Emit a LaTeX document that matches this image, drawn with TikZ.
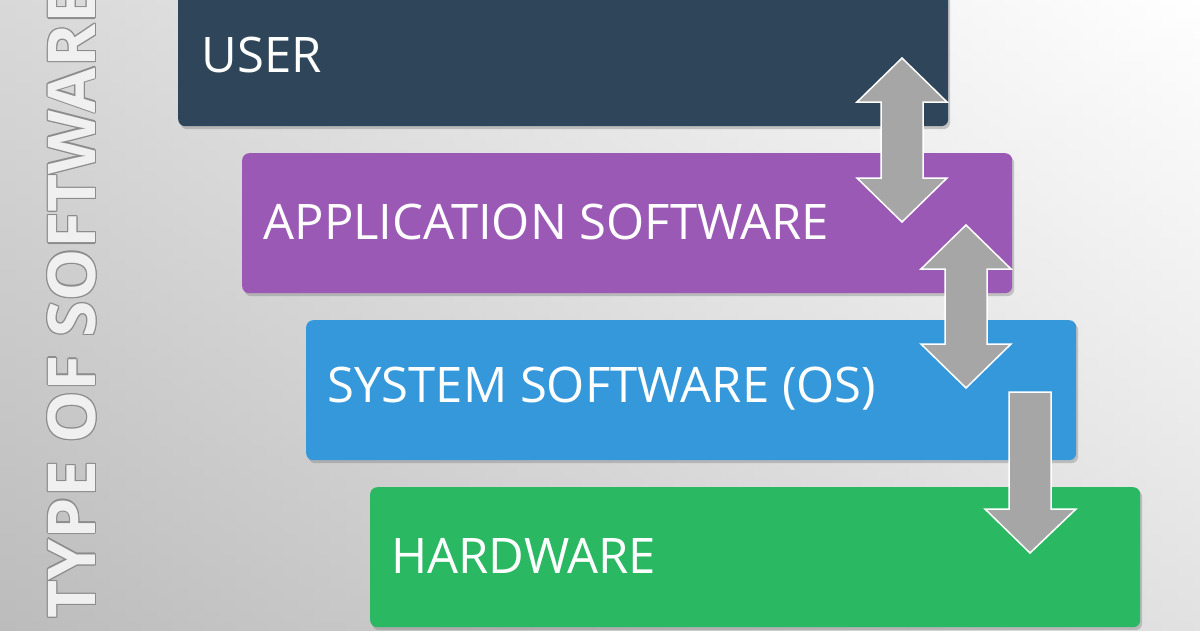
\documentclass[tikz,border=0pt]{standalone}
\usepackage{fontspec}
\setmainfont{Open Sans}
\usetikzlibrary{shadows}
\definecolor{cuser}{HTML}{2F4559}
\definecolor{capp}{HTML}{9B59B6}
\definecolor{csys}{HTML}{3498DB}
\definecolor{chw}{HTML}{2AB862}
\definecolor{arr}{HTML}{A6A6A6}
\tikzset{
  layer/.style={rounded corners=7pt, minimum width=770pt, minimum height=140pt, anchor=north west,
    inner sep=0pt, drop shadow={shadow xshift=2pt, shadow yshift=-3pt, opacity=0.4}},
  ltext/.style={anchor=west, text=white, font=\fontsize{49}{55}\selectfont},
  garrow/.style={fill=arr, draw=white, line width=1.5pt},
  ttl/.style={rotate=90, anchor=west, font=\fontsize{66}{66}\selectfont\bfseries}
}
\begin{document}
\begin{tikzpicture}[x=1pt,y=-1pt]
\useasboundingbox (0,0) rectangle (1200,630);
\shade[left color=gray!60, right color=white] (0,0) rectangle (1200,630);
\shade[top color=white, bottom color=gray!45, opacity=0.5] (0,0) rectangle (1200,630);
% vertical title (outlined)
\foreach \dx/\dy in {1.3/0,-1.3/0,0/1.3,0/-1.3,0.9/0.9,-0.9/0.9,0.9/-0.9,-0.9/-0.9}
  \node[ttl, text=gray!90] at (72+\dx,622+\dy) {TYPE OF SOFTWARE};
\node[ttl, text=gray!12] (title) at (72,622) {TYPE OF SOFTWARE};
\node[layer, fill=cuser] (user) at (178,-14) {};
\node[ltext] (tuser) at (198,55) {USER};
\node[layer, fill=capp] (app) at (242,153) {};
\node[ltext] (tapp) at (260,222) {APPLICATION SOFTWARE};
\node[layer, fill=csys] (sys) at (306,320) {};
\node[ltext] (tsys) at (324,389) {SYSTEM SOFTWARE (OS)};
\node[layer, fill=chw] (hw) at (370,487) {};
\node[ltext] (thw) at (388,556) {HARDWARE};
% arrows
\draw[garrow] (902,58) -- (947,102) -- (923,102) -- (923,178) -- (947,178) -- (902,222) -- (857,178) -- (881,178) -- (881,102) -- (857,102) -- cycle;
\draw[garrow] (966,225) -- (1011,269) -- (987,269) -- (987,344) -- (1011,344) -- (966,388) -- (921,344) -- (945,344) -- (945,269) -- (921,269) -- cycle;
\draw[garrow] (1009,392) -- (1051,392) -- (1051,509) -- (1076,509) -- (1030,553) -- (985,509) -- (1009,509) -- cycle;
\end{tikzpicture}
\end{document}
